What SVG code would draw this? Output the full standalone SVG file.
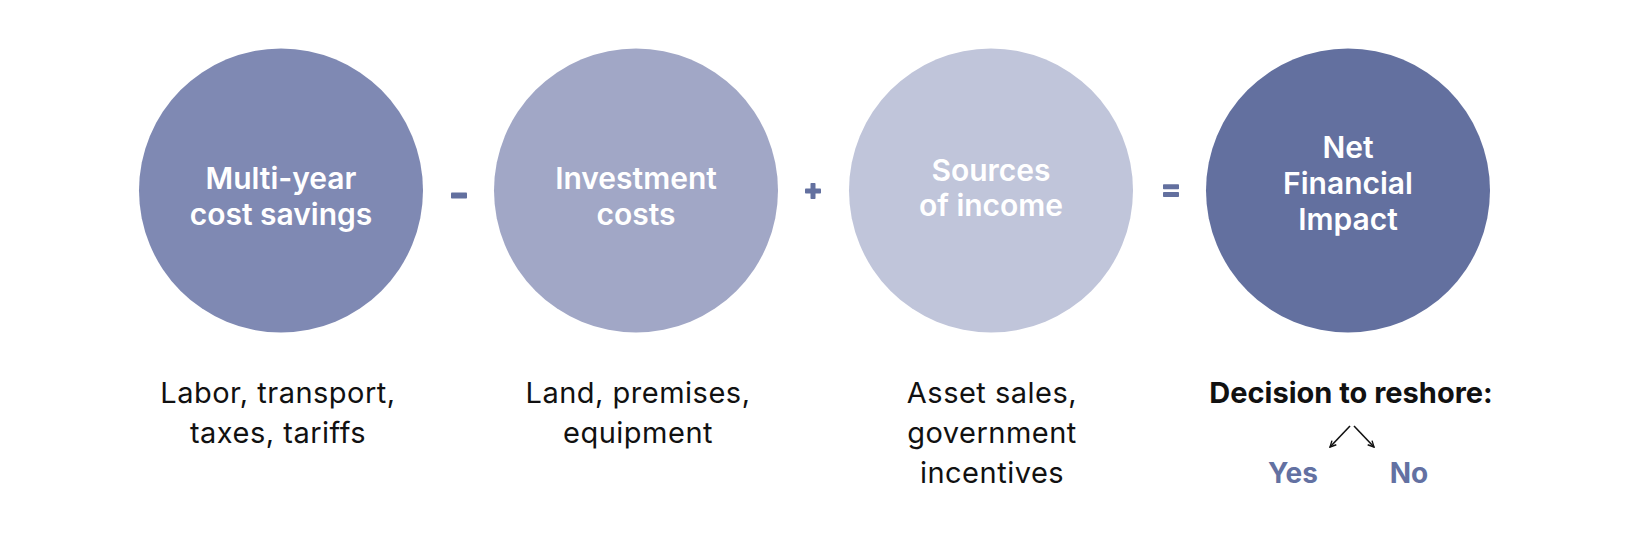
<svg xmlns="http://www.w3.org/2000/svg" width="1626" height="556" viewBox="0 0 1626 556">
  <defs>
    <style>
      .ct { font-family: Inter, "Open Sans", "Liberation Sans", sans-serif; font-weight: 600; font-size: 30px; fill: #ffffff; text-anchor: middle; }
      .lb { font-family: Inter, "Open Sans", "Liberation Sans", sans-serif; font-weight: 400; font-size: 29px; letter-spacing: 0.5px; fill: #111111; text-anchor: middle; }
      .bd { font-family: Inter, "Open Sans", "Liberation Sans", sans-serif; font-weight: 700; font-size: 29px; fill: #111111; text-anchor: middle; }
      .yn { font-family: Inter, "Open Sans", "Liberation Sans", sans-serif; font-weight: 700; font-size: 28px; fill: #6371a2; text-anchor: middle; }
      .op { fill: #63709f; }
      .arr { stroke: #111111; stroke-width: 1.6; fill: none; }
    </style>
    <marker id="ah" viewBox="0 0 8 8" refX="7" refY="4" markerWidth="8" markerHeight="8" markerUnits="userSpaceOnUse" orient="auto">
      <path d="M1,1 L7,4 L1,7" fill="none" stroke="#111111" stroke-width="1.4"/>
    </marker>
  </defs>
  <rect width="1626" height="556" fill="#ffffff"/>

  <g id="node-savings">
    <circle cx="281" cy="190.5" r="142" fill="#7f89b3"/>
    <text class="ct" x="281" y="189">Multi-year</text>
    <text class="ct" x="281" y="225">cost savings</text>
    <text class="lb" x="278" y="403">Labor, transport,</text>
    <text class="lb" x="278" y="443">taxes, tariffs</text>
  </g>

  <g id="node-investment">
    <circle cx="636" cy="190.5" r="142" fill="#a1a7c6"/>
    <text class="ct" x="636" y="189">Investment</text>
    <text class="ct" x="636" y="225">costs</text>
    <text class="lb" x="638" y="403">Land, premises,</text>
    <text class="lb" x="638" y="443">equipment</text>
  </g>

  <g id="node-income">
    <circle cx="991" cy="190.5" r="142" fill="#c0c5da"/>
    <text class="ct" x="991" y="181">Sources</text>
    <text class="ct" x="991" y="216">of income</text>
    <text class="lb" x="992" y="403">Asset sales,</text>
    <text class="lb" x="992" y="443">government</text>
    <text class="lb" x="992" y="483">incentives</text>
  </g>

  <g id="node-impact">
    <circle cx="1348" cy="190.5" r="142" fill="#63709f"/>
    <text class="ct" x="1348" y="158">Net</text>
    <text class="ct" x="1348" y="194">Financial</text>
    <text class="ct" x="1348" y="230">Impact</text>
    <text class="bd" x="1351" y="403">Decision to reshore:</text>
    <text class="yn" x="1293" y="483">Yes</text>
    <text class="yn" x="1409" y="483">No</text>
  </g>

  <g id="operators">
    <rect class="op" x="451" y="192.5" width="16" height="6" rx="0.8"/>
    <rect class="op" x="805" y="188.5" width="16" height="5" rx="0.8"/>
    <rect class="op" x="810.5" y="183" width="5" height="16" rx="0.8"/>
    <rect class="op" x="1163" y="184.3" width="16" height="5" rx="0.8"/>
    <rect class="op" x="1163" y="192" width="16" height="5" rx="0.8"/>
  </g>

  <g id="connectors">
    <line class="arr" x1="1350" y1="426" x2="1330" y2="447" marker-end="url(#ah)"/>
    <line class="arr" x1="1354" y1="426" x2="1374" y2="447" marker-end="url(#ah)"/>
  </g>
</svg>
